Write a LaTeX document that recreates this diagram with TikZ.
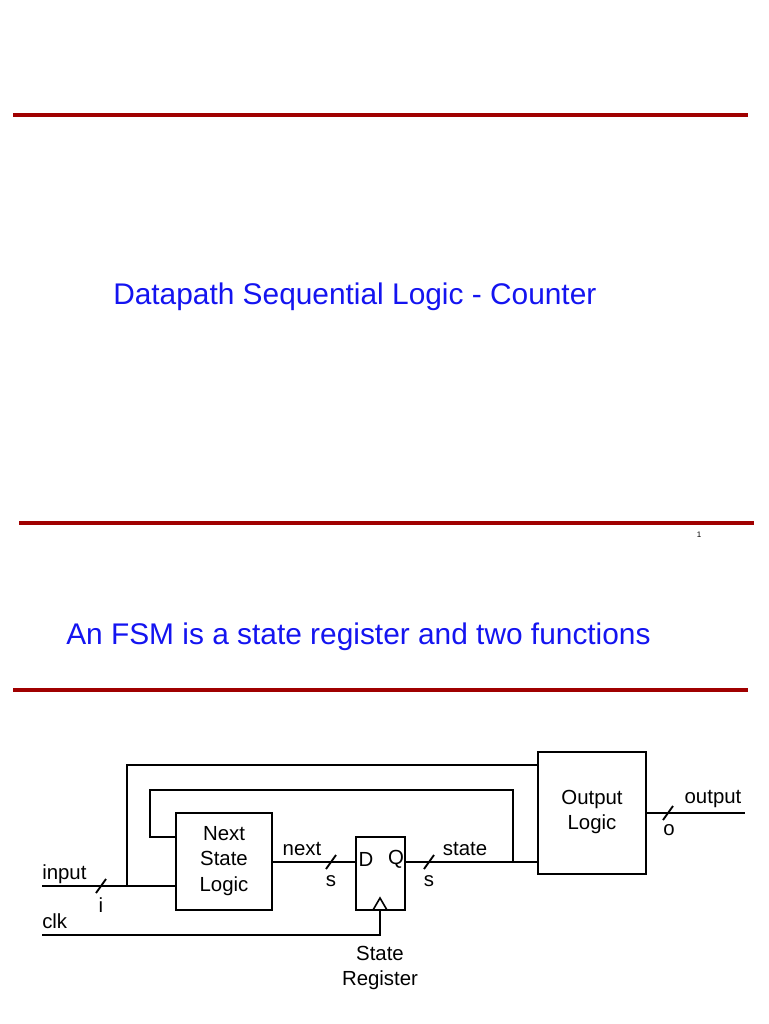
\documentclass[tikz,border=0pt]{standalone}
\usepackage{fontspec}
\setmainfont{Liberation Sans}
\begin{document}
\begin{tikzpicture}[x=0.75pt,y=-0.75pt,
  redline/.style={line width=3pt,draw={rgb,255:red,160;green,0;blue,0}},
  title/.style={text={rgb,255:red,20;green,20;blue,240},font=\fontsize{22.4}{26}\selectfont,inner sep=0},
  lbl/.style={font=\fontsize{15.3}{17}\selectfont,inner sep=0},
  blk/.style={draw,line width=1.6pt,align=center,font=\fontsize{15.3}{19}\selectfont},
  wire/.style={line width=1pt}]
\useasboundingbox (0,0) rectangle (768,1024);
\draw[redline] (13,115) -- (748,115);
\draw[redline] (19,523) -- (754,523);
\draw[redline] (13,690) -- (748,690);
\node[title,anchor=west] (t1) at (113,297) {Datapath Sequential Logic - Counter};
\node[font=\fontsize{6}{7}\selectfont] (pg) at (699,535) {1};
\node[title,anchor=west] (t2) at (66,637) {An FSM is a state register and two functions};
% blocks
\draw[line width=1.9pt] (176,813) rectangle (272,910);
\node[blk,draw=none] (nsl) at (224,861) {Next\\State\\Logic};
\draw[line width=1.9pt] (356,837) rectangle (405,910);
\draw[line width=1.2pt] (373,910) -- (380,898) -- (387,910);
\draw[line width=1.9pt] (538,752) rectangle (646,874);
\node[blk,draw=none] (ol) at (592,812) {Output\\Logic};
\node[lbl] (d) at (366,859) {D};
\node[lbl] (q) at (396,859) {Q};
% wires
\coordinate (inL) at (42,886);
\coordinate (nslIn) at (176,886);
\draw[wire] (inL) -- (nslIn);
\draw[wire] (127,886) -- (127,765) -- (538,765);
\draw[wire] (176,837) -- (150,837) -- (150,790) -- (513,790) -- (513,862);
\draw[wire] (272,862) -- (356,862);
\draw[wire] (405,862) -- (538,862);
\draw[wire] (42,935) -- (380,935) -- (380,910);
\draw[wire] (646,813) -- (745,813);
% slashes
\foreach \x/\y in {101/886,331/862,429/862,668/813}
  \draw[line width=1.4pt] (\x-5,\y+7) -- (\x+5,\y-7);
\node[lbl] (li) at (101,905) {i};
\node[lbl] (ls1) at (331,881) {s};
\node[lbl] (ls2) at (429,881) {s};
\node[lbl] (lo) at (669,830) {o};
\node[lbl,anchor=west] (lin) at (42,874) {input};
\node[lbl,anchor=west] (lclk) at (42,921) {clk};
\node[lbl] (lnext) at (302,849) {next};
\node[lbl] (lstate) at (465,849) {state};
\node[lbl] (lout) at (713,799) {output};
\node[blk,draw=none] (sr) at (380,968) {State\\Register};
\end{tikzpicture}
\end{document}
